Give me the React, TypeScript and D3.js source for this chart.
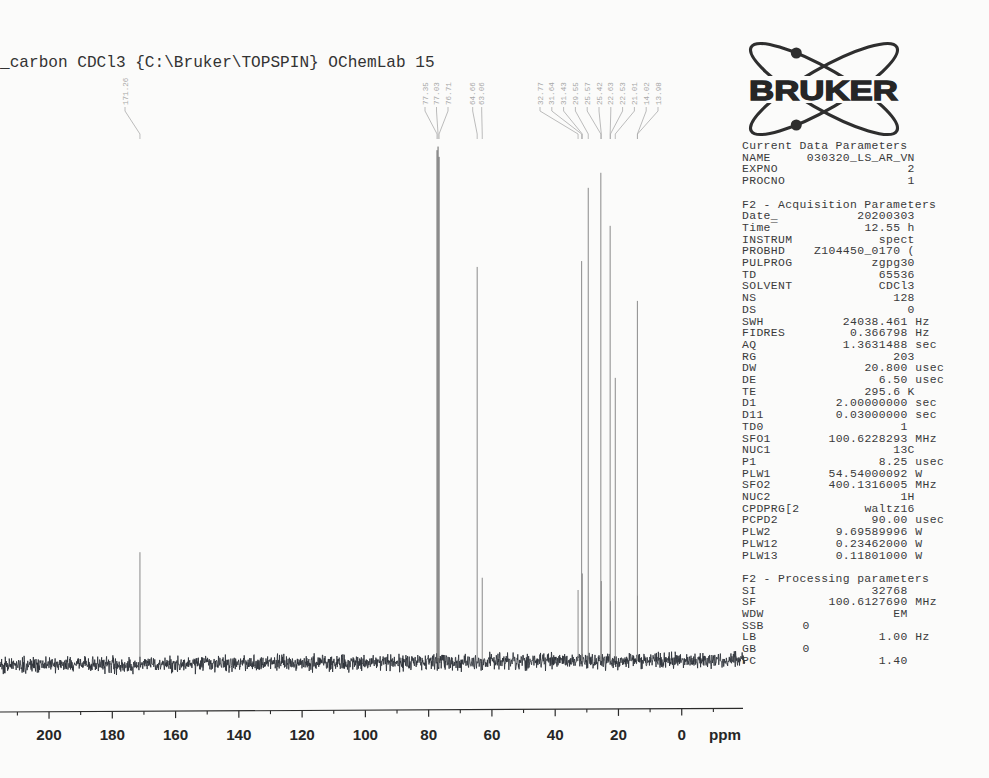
import React from 'react';
import * as d3 from 'd3';

// ---------------- data ----------------
const TITLE = "_carbon CDCl3 {C:\\Bruker\\TOPSPIN} OChemLab 15";
const peakPpm = [171.26, 77.35, 77.03, 76.71, 64.66, 63.06, 32.77, 31.64, 31.43, 29.55, 25.57, 25.42, 22.63, 22.53, 21.01, 14.02, 13.98];
const peakIntensity = [21.7, 99.3, 100, 98, 76.6, 16.3, 13.8, 77.6, 17, 91.8, 94.7, 15.5, 84.4, 11.6, 54.9, 69.8, 12.6];
const peakLabels = peakPpm.map((p) => p.toFixed(2));
const majorTicks = [200, 180, 160, 140, 120, 100, 80, 60, 40, 20, 0];
const minorTicks = [210, 190, 170, 150, 130, 110, 90, 70, 50, 30, 10, -10];
const axisUnit = 'ppm';

// parameter listing: kind: h header, s string, n number, l left, '' blank
const paramNames = ['Current Data Parameters', 'NAME', 'EXPNO', 'PROCNO', '', 'F2 - Acquisition Parameters', 'Date_', 'Time\u00AF', 'INSTRUM', 'PROBHD', 'PULPROG', 'TD', 'SOLVENT', 'NS', 'DS', 'SWH', 'FIDRES', 'AQ', 'RG', 'DW', 'DE', 'TE', 'D1', 'D11', 'TD0', 'SFO1', 'NUC1', 'P1', 'PLW1', 'SFO2', 'NUC2', 'CPDPRG[2', 'PCPD2', 'PLW2', 'PLW12', 'PLW13', '', 'F2 - Processing parameters', 'SI', 'SF', 'WDW', 'SSB', 'LB', 'GB', 'PC'];
const paramValues = ['', '030320_LS_AR_VN', '2', '1', '', '', '20200303', '12.55 h', 'spect', 'Z104450_0170 (', 'zgpg30', '65536', 'CDCl3', '128', '0', '24038.461', '0.366798', '1.3631488', '203', '20.800', '6.50', '295.6 K', '2.00000000', '0.03000000', '1', '100.6228293', '13C', '8.25', '54.54000092', '400.1316005', '1H', 'waltz16', '90.00', '9.69589996', '0.23462000', '0.11801000', '', '', '32768', '100.6127690', 'EM', '0', '1.00', '0', '1.40'];
const paramUnits = ['', '', '', '', '', '', '', '', '', '', '', '', '', '', '', 'Hz', 'Hz', 'sec', '', 'usec', 'usec', '', 'sec', 'sec', '', 'MHz', '', 'usec', 'W', 'MHz', '', '', 'usec', 'W', 'W', 'W', '', '', '', 'MHz', '', '', 'Hz', '', ''];
const paramKinds = ['h', 's', 's', 's', '', 'h', 's', 's', 's', 's', 's', 's', 's', 's', 's', 'n', 'n', 'n', 's', 'n', 'n', 's', 'n', 'n', 'n', 'n', 's', 'n', 'n', 'n', 's', 's', 'n', 'n', 'n', 'n', '', 'h', 'n', 'n', 'n', 'l', 'n', 'l', 'n'];

// ---------------- layout ----------------
const W = 989;
const H = 778;
const PLOT_RIGHT = 745;
const labelX = [125, 425, 436.5, 448, 472.7, 481.7, 540, 551.8, 563.6, 575.4, 587.2, 599, 610.8, 622.6, 634.4, 646.2, 658];

const baseY = (x: number) => 665 - x * 0.0067;
const axisY = (x: number) => 712 - x * 0.0050;

function hash(n: number) {
  const s = Math.sin(n * 127.1 + 311.7) * 43758.5453;
  return s - Math.floor(s);
}

function BrukerLogo() {
  const cx = 824, cy = 89, rx = 84, ry = 20, ang = 30;
  const pointOn = (rot: number, tx: number, ty: number) => {
    let best = [0, 0], bd = 1e9;
    const r = (rot * Math.PI) / 180;
    for (let i = 0; i < 720; i++) {
      const t = (i / 720) * Math.PI * 2;
      const ex = rx * Math.cos(t), ey = ry * Math.sin(t);
      const x = cx + ex * Math.cos(r) - ey * Math.sin(r);
      const y = cy + ex * Math.sin(r) + ey * Math.cos(r);
      const d = (x - tx) ** 2 + (y - ty) ** 2;
      if (d < bd) { bd = d; best = [x, y]; }
    }
    return best;
  };
  const d1 = pointOn(ang, 797, 52);
  const d2 = pointOn(-ang, 797, 127);
  return (
    <g>
      <ellipse cx={cx} cy={cy} rx={rx} ry={ry} transform={`rotate(${ang} ${cx} ${cy})`} fill="none" stroke="#2e2e2e" strokeWidth={3.2} />
      <ellipse cx={cx} cy={cy} rx={rx} ry={ry} transform={`rotate(${-ang} ${cx} ${cy})`} fill="none" stroke="#2e2e2e" strokeWidth={3.2} />
      <circle cx={d1[0]} cy={d1[1]} r={5.5} fill="#2e2e2e" />
      <circle cx={d2[0]} cy={d2[1]} r={5.5} fill="#2e2e2e" />
      <rect x={746} y={76} width={155} height={27} fill="#fbfbfa" />
      <text x={749} y={100} fontFamily="'Liberation Sans', Arial, sans-serif" fontWeight="bold" fontSize={27} fill="#262626" textLength={149} lengthAdjust="spacingAndGlyphs" stroke="#262626" strokeWidth={1.3}>BRUKER</text>
    </g>
  );
}

export default function App() {
  const x = d3.scaleLinear().domain([215.5, -20]).range([0, PLOT_RIGHT]);
  const h = d3.scaleLinear().domain([0, 100]).range([0, 515.5]);

  // baseline noise texture (deterministic)
  const noisePts: [number, number][] = d3.range(0, PLOT_RIGHT, 0.33).map((px, i) => {
    const n = (hash(i) + hash(i + 7919) + hash(i + 104729) - 1.5) * 7.6;
    return [px, baseY(px) + n];
  });
  const noisePath = d3.line()(noisePts) || '';

  const mono = "'Liberation Mono', 'Courier New', monospace";
  const x0 = 742;
  const cw = 7.2;
  const line0 = 149;
  const pitch = 11.7;
  const fs = 11.4;
  const ls = cw - fs * 0.6;

  return (
    <svg width={W} height={H} style={{ position: 'absolute', left: 0, top: 0, background: '#fbfbfa' }}>
      <rect x={0} y={0} width={W} height={H} fill="#fbfbfa" />
      {/* title */}
      <text x={0} y={67} fontFamily={mono} fontSize={16.1} fill="#333">{TITLE}</text>

      {/* peak labels and connectors */}
      <g>
        {peakPpm.map((p, i) => {
          const lx = labelX[i];
          const px = x(p);
          return (
            <g key={'lab' + i}>
              <text transform={`translate(${lx + 2.5},105) rotate(-90)`} fontFamily={mono} fontSize={7.6} fill="#a8a8a8">{peakLabels[i]}</text>
              <path d={`M${lx},107 L${lx},111 L${px},134 L${px},139`} fill="none" stroke="#ababab" strokeWidth={0.8} />
            </g>
          );
        })}
      </g>

      {/* baseline noise */}
      <path d={noisePath} fill="none" stroke="#2c3038" strokeWidth={0.85} />

      {/* peaks */}
      {peakPpm.map((p, i) => {
        const px = x(p);
        const b = baseY(px);
        const big = p > 76 && p < 78;
        return (
          <line key={'pk' + i} x1={px} x2={px} y1={b} y2={b - h(peakIntensity[i])}
            stroke={big ? '#666' : '#8a8a8a'} strokeWidth={1} />
        );
      })}

      {/* axis */}
      <line x1={0} x2={PLOT_RIGHT - 2} y1={axisY(0)} y2={axisY(PLOT_RIGHT - 2)} stroke="#2a2a2a" strokeWidth={1.2} />
      {majorTicks.map((t) => (
        <g key={'M' + t}>
          <line x1={x(t)} x2={x(t)} y1={axisY(x(t))} y2={axisY(x(t)) + 7} stroke="#2a2a2a" strokeWidth={1.2} />
          <text x={x(t)} y={739.5} textAnchor="middle" fontFamily="'Liberation Sans', Arial, sans-serif" fontWeight="bold" fontSize={15.2} fill="#262626">{t}</text>
        </g>
      ))}
      {minorTicks.map((t) => (
        <line key={'m' + t} x1={x(t)} x2={x(t)} y1={axisY(x(t))} y2={axisY(x(t)) + 3.5} stroke="#2a2a2a" strokeWidth={1.1} />
      ))}
      <text x={709} y={739.5} fontFamily="'Liberation Sans', Arial, sans-serif" fontWeight="bold" fontSize={15.2} fill="#262626">{axisUnit}</text>

      {/* logo */}
      <BrukerLogo />

      {/* parameters */}
      <g fontFamily={mono} fontSize={fs} fill="#3a3a3a" letterSpacing={ls}>
        {paramNames.map((nm, i) => {
          const y = line0 + i * pitch;
          const k = paramKinds[i];
          if (k === '') return null;
          if (k === 'h') return <text key={'p' + i} x={x0} y={y} style={{ whiteSpace: 'pre' }}>{nm}</text>;
          const endS = x0 + 24 * cw;
          const endN = x0 + 23 * cw;
          return (
            <g key={'p' + i}>
              <text x={x0} y={y}>{nm}</text>
              {k === 's' && <text x={endS} y={y} textAnchor="end">{paramValues[i]}</text>}
              {k === 'n' && <text x={endN} y={y} textAnchor="end">{paramValues[i]}</text>}
              {k === 'l' && <text x={x0 + 8.4 * cw} y={y}>{paramValues[i]}</text>}
              {paramUnits[i] && <text x={endS + 0.5} y={y}>{paramUnits[i]}</text>}
            </g>
          );
        })}
      </g>
    </svg>
  );
}
